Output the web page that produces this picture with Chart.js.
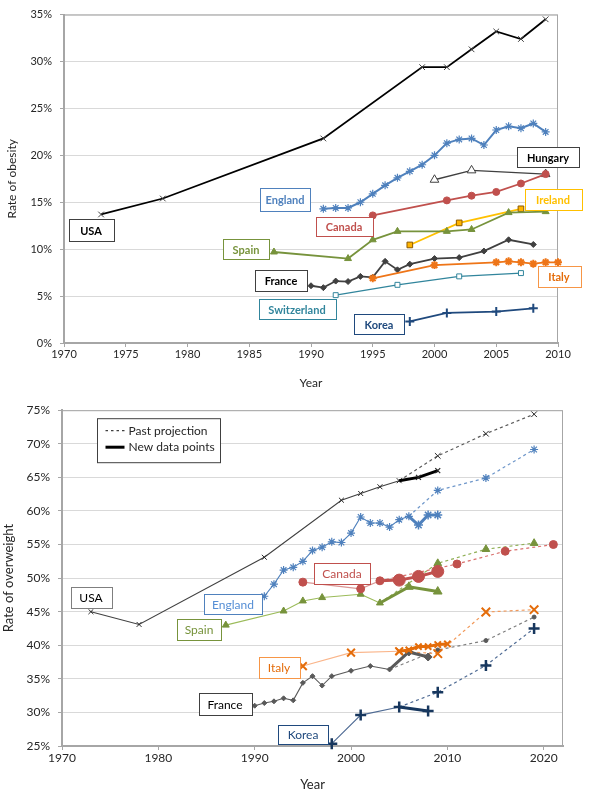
<!DOCTYPE html>
<html>
<head>
<meta charset="utf-8">
<script src="https://cdn.jsdelivr.net/npm/chart.js@4.4.1/dist/chart.umd.min.js"></script>
<style>
  body { margin: 0; background: #fff; }
  canvas { position: absolute; left: 0; }
  #obesity { top: 0; }
  #overweight { top: 395px; }
</style>
</head>
<body>
<canvas id="obesity" width="590" height="395"></canvas>
<canvas id="overweight" width="590" height="405"></canvas>
<script>
// ---- top chart: rate of obesity ----
const usaYears = [1973, 1978, 1991, 1999, 2001, 2003, 2005, 2007, 2009];
const usaObesity = [13.7, 15.4, 21.8, 29.4, 29.4, 31.3, 33.2, 32.4, 34.5];
const englandYears = [1991, 1992, 1993, 1994, 1995, 1996, 1997, 1998, 1999, 2000, 2001, 2002, 2003, 2004, 2005, 2006, 2007, 2008, 2009];
const englandObesity = [14.3, 14.4, 14.4, 15.0, 15.9, 16.8, 17.6, 18.3, 19.0, 20.0, 21.3, 21.7, 21.8, 21.1, 22.7, 23.1, 22.9, 23.4, 22.5];
const hungaryYears = [2000, 2003, 2009];
const hungaryObesity = [17.4, 18.4, 18.0];
const canadaYears = [1995, 2001, 2003, 2005, 2007, 2009];
const canadaObesity = [13.6, 15.2, 15.7, 16.1, 17.0, 18.0];
const irelandYears = [1998, 2002, 2007];
const irelandObesity = [10.45, 12.8, 14.3];
const spainYears = [1987, 1993, 1995, 1997, 2001, 2003, 2006, 2009];
const spainObesity = [9.7, 9.0, 11.0, 11.9, 11.9, 12.1, 13.9, 14.0];
const franceYears = [1990, 1991, 1992, 1993, 1994, 1995, 1996, 1997, 1998, 2000, 2002, 2004, 2006, 2008];
const franceObesity = [6.1, 5.9, 6.6, 6.55, 7.1, 7.0, 8.7, 7.8, 8.4, 9.0, 9.1, 9.8, 11.0, 10.5];
const italyYears = [1995, 2000, 2005, 2006, 2007, 2008, 2009, 2010];
const italyObesity = [6.9, 8.3, 8.6, 8.7, 8.6, 8.45, 8.6, 8.6];
const swissYears = [1992, 1997, 2002, 2007];
const swissObesity = [5.1, 6.2, 7.1, 7.45];
const koreaYears = [1998, 2001, 2005, 2008];
const koreaObesity = [2.3, 3.2, 3.35, 3.7];

// ---- bottom chart: rate of overweight (past data, new data, past projection) ----
const usaPastYears = [1973, 1978, 1991, 1999, 2001, 2003, 2005];
const usaPast = [45.0, 43.1, 53.1, 61.6, 62.6, 63.6, 64.5];
const usaNewYears = [2005, 2007, 2009];
const usaNew = [64.5, 65.0, 66.0];
const usaProjYears = [2005, 2009, 2014, 2019];
const usaProj = [64.5, 68.2, 71.5, 74.4];

const englandPastYears = [1991, 1992, 1993, 1994, 1995, 1996, 1997, 1998, 1999, 2000, 2001, 2002, 2003, 2004, 2005, 2006];
const englandPast = [47.3, 49.1, 51.2, 51.6, 52.5, 54.1, 54.6, 55.4, 55.3, 56.7, 59.1, 58.2, 58.2, 57.6, 58.7, 59.2];
const englandNewYears = [2006, 2007, 2008, 2009];
const englandNew = [59.2, 57.9, 59.4, 59.4];
const englandProjYears = [2006, 2009, 2014, 2019];
const englandProj = [59.2, 63.05, 64.9, 69.15];

const canadaPastYears = [1995, 2001, 2003];
const canadaPast = [49.4, 48.4, 49.6];
const canadaNewYears = [2003, 2005, 2007, 2009];
const canadaNew = [49.6, 49.7, 50.25, 51.0];
const canadaProjYears = [2003, 2011, 2016, 2021];
const canadaProj = [49.6, 52.1, 54.0, 55.0];

const spainPastYears = [1987, 1993, 1995, 1997, 2001, 2003];
const spainPast = [43.0, 45.1, 46.6, 47.1, 47.6, 46.3];
const spainNewYears = [2003, 2006, 2009];
const spainNew = [46.3, 48.7, 48.0];
const spainProjYears = [2003, 2009, 2014, 2019];
const spainProj = [46.3, 52.2, 54.3, 55.2];

const italyPastYears = [1995, 2000, 2005];
const italyPast = [36.9, 38.9, 39.1];
const italyNewYears = [2005, 2006, 2007, 2008, 2009, 2010];
const italyNew = [39.1, 39.3, 39.8, 39.8, 40.1, 40.2];
const italyProjYears = [2005, 2009, 2014, 2019];
const italyProj = [39.1, 38.75, 44.95, 45.3];

const francePastYears = [1990, 1991, 1992, 1993, 1994, 1995, 1996, 1997, 1998, 2000, 2002, 2004];
const francePast = [31.0, 31.4, 31.65, 32.1, 31.8, 34.4, 35.4, 34.0, 35.4, 36.2, 36.9, 36.4];
const franceNewYears = [2004, 2006, 2008];
const franceNew = [36.4, 39.0, 38.25];
const franceProjYears = [2004, 2009, 2014, 2019];
const franceProj = [36.4, 39.3, 40.7, 44.2];

const koreaPastYears = [1998, 2001, 2005];
const koreaPast = [25.35, 29.6, 30.8];
const koreaNewYears = [2005, 2008];
const koreaNew = [30.8, 30.2];
const koreaProjYears = [2005, 2009, 2014, 2019];
const koreaProj = [30.8, 33.0, 37.0, 42.5];

const obesityTicks = [0, 5, 10, 15, 20, 25, 30, 35];
const overweightTicks = [25, 30, 35, 40, 45, 50, 55, 60, 65, 70, 75];
const obesityYearTicks = [1970, 1975, 1980, 1985, 1990, 1995, 2000, 2005, 2010];
const overweightYearTicks = [1970, 1980, 1990, 2000, 2010, 2020];

const FONT = 'Lato, "Open Sans", sans-serif';

function pts(years, values) {
    return years.map((x, i) => ({ x: x, y: values[i] }));
}

// boxed country names, placed in data units (year, percent)
const boxLabels = {
    id: 'boxLabels',
    afterDatasetsDraw(chart, args, opts) {
        const ctx = chart.ctx;
        const xs = chart.scales.x, ys = chart.scales.y;
        ctx.save();
        ctx.font = opts.font;
        ctx.textAlign = 'center';
        ctx.textBaseline = 'middle';
        opts.items.forEach(it => {
            const cx = Math.round(xs.getPixelForValue(it.year));
            const cy = Math.round(ys.getPixelForValue(it.value));
            const l = Math.round(cx - it.w / 2) + 0.5, t = Math.round(cy - it.h / 2) + 0.5;
            ctx.fillStyle = '#fff';
            ctx.fillRect(l, t, it.w, it.h);
            ctx.strokeStyle = it.border;
            ctx.lineWidth = 1;
            ctx.strokeRect(l, t, it.w, it.h);
            ctx.fillStyle = it.color;
            ctx.fillText(it.text, cx, cy + 1);
        });
        ctx.restore();
    }
};

const plotBorder = {
    id: 'plotBorder',
    beforeDatasetsDraw(chart) {
        const { ctx, chartArea: a } = chart;
        ctx.save();
        ctx.strokeStyle = '#A6A6A6';
        ctx.lineWidth = 1;
        ctx.strokeRect(a.left, a.top + 0.5, a.right - a.left - 0.5, a.bottom - a.top);
        ctx.restore();
    }
};

const projLegend = {
    id: 'projLegend',
    afterDraw(chart) {
        const { ctx, chartArea: a } = chart;
        const l = a.left + 35.5, t = a.top + 8.5;
        ctx.save();
        ctx.fillStyle = '#fff';
        ctx.fillRect(l, t, 123, 44);
        ctx.strokeStyle = '#404040';
        ctx.lineWidth = 1;
        ctx.strokeRect(l, t, 123, 44);
        ctx.strokeStyle = '#404040';
        ctx.lineWidth = 1.2;
        ctx.setLineDash([2.5, 3]);
        ctx.beginPath(); ctx.moveTo(l + 8, t + 12); ctx.lineTo(l + 27, t + 12); ctx.stroke();
        ctx.setLineDash([]);
        ctx.strokeStyle = '#000';
        ctx.lineWidth = 3;
        ctx.beginPath(); ctx.moveTo(l + 8, t + 28.5); ctx.lineTo(l + 27, t + 28.5); ctx.stroke();
        ctx.fillStyle = '#262626';
        ctx.font = '12px ' + FONT;
        ctx.textBaseline = 'middle';
        ctx.fillText('Past projection', l + 31, t + 12);
        ctx.fillText('New data points', l + 31, t + 28);
        ctx.restore();
    }
};

function axes(o) {
    return {
        x: {
            type: 'linear', min: o.xmin, max: o.xmax,
            afterFit: s => { s.height = o.xh; },
            afterBuildTicks: s => { s.ticks = o.xticks.map(v => ({ value: v })); },
            ticks: { includeBounds: false, padding: 1, color: '#262626', font: { family: FONT, size: o.tick }, callback: v => String(v) },
            grid: { drawOnChartArea: false, drawTicks: true, tickLength: 4, tickColor: '#A6A6A6' },
            border: { color: '#A6A6A6', width: 2 },
            title: { display: true, text: 'Year', color: '#262626', font: { family: FONT, size: o.title }, padding: { top: 0, bottom: o.xtpb } }
        },
        y: {
            min: o.ymin, max: o.ymax,
            afterFit: s => { s.width = o.yw; },
            afterBuildTicks: s => { s.ticks = o.yticks.map(v => ({ value: v })); },
            ticks: { padding: 8, color: '#262626', font: { family: FONT, size: o.tick }, callback: v => v + '%' },
            grid: { color: '#D9D9D9', tickLength: 4, tickColor: '#A6A6A6' },
            border: { color: '#A6A6A6', width: 2 },
            title: { display: true, text: o.ytitle, color: '#262626', font: { family: FONT, size: o.title }, padding: { top: o.ytpt, bottom: 0 } }
        }
    };
}

function topLine(years, values, color, s) {
    return Object.assign({
        data: pts(years, values),
        borderColor: color, borderWidth: 1.8,
        pointBackgroundColor: color, pointBorderColor: color,
        pointBorderWidth: 1, pointRadius: 4, tension: 0, clip: false
    }, s);
}

new Chart(document.getElementById('obesity'), {
    type: 'line',
    data: {
        datasets: [
            topLine(koreaYears, koreaObesity, '#1F497D', { pointStyle: 'cross', pointRadius: 4.5, pointBorderWidth: 2 }),
            topLine(swissYears, swissObesity, '#31859C', { borderWidth: 1.3, pointStyle: 'rect', pointRadius: 3.5, pointBackgroundColor: '#fff' }),
            topLine(italyYears, italyObesity, '#EE7518', { pointStyle: 'star', pointRadius: 4, pointBorderWidth: 2 }),
            topLine(franceYears, franceObesity, '#404040', { pointStyle: 'rectRot', pointRadius: 3 }),
            topLine(spainYears, spainObesity, '#77933C', { pointStyle: 'triangle', pointRadius: 4 }),
            topLine(irelandYears, irelandObesity, '#FFC000', { pointStyle: 'rect', pointRadius: 4, pointBackgroundColor: '#FFB400', pointBorderColor: '#8C5A00' }),
            topLine(canadaYears, canadaObesity, '#C0504D', { pointStyle: 'circle', pointRadius: 3.5 }),
            topLine(hungaryYears, hungaryObesity, '#404040', { borderWidth: 1.4, pointStyle: 'triangle', pointRadius: 5, pointBackgroundColor: '#fff' }),
            topLine(englandYears, englandObesity, '#4F81BD', { borderWidth: 2, pointStyle: 'star', pointRadius: 4, pointBorderWidth: 1.2 }),
            topLine(usaYears, usaObesity, '#000', { pointStyle: 'crossRot', pointRadius: 4, pointBorderColor: '#404040' })
        ]
    },
    options: {
        responsive: false, animation: false,
        layout: { padding: { top: 11, right: 32, left: 0, bottom: 0 } },
        scales: axes({
            xmin: 1970, xmax: 2010, xticks: obesityYearTicks,
            ymin: 0, ymax: 35, yticks: obesityTicks, xh: 52, yw: 64, tick: 11, title: 12,
            xtpb: 5, ytpt: 5, ytitle: 'Rate of obesity'
        }),
        plugins: {
            legend: { display: false }, tooltip: { enabled: false },
            boxLabels: {
                font: 'bold 11px ' + FONT,
                items: [
                    { text: 'USA', year: 1972.15, value: 12.05, w: 45, h: 22, color: '#000', border: '#404040' },
                    { text: 'England', year: 1987.9, value: 15.35, w: 50, h: 23, color: '#4F81BD', border: '#4F81BD' },
                    { text: 'Canada', year: 1992.7, value: 12.5, w: 57, h: 19, color: '#C0504D', border: '#C0504D' },
                    { text: 'Hungary', year: 2009.2, value: 19.8, w: 62, h: 20, color: '#000', border: '#404040' },
                    { text: 'Ireland', year: 2009.6, value: 15.4, w: 57, h: 21, color: '#FFC000', border: '#FFC000' },
                    { text: 'Spain', year: 1984.7, value: 10.0, w: 46, h: 20, color: '#77933C', border: '#77933C' },
                    { text: 'France', year: 1987.6, value: 6.7, w: 52, h: 21, color: '#000', border: '#404040' },
                    { text: 'Italy', year: 2010.1, value: 7.1, w: 43, h: 21, color: '#E46C0A', border: '#F79646' },
                    { text: 'Switzerland', year: 1988.9, value: 3.65, w: 77, h: 20, color: '#31859C', border: '#31859C' },
                    { text: 'Korea', year: 1995.5, value: 2.05, w: 50, h: 20, color: '#1F497D', border: '#1F497D' }
                ]
            }
        }
    },
    plugins: [plotBorder, boxLabels]
});

// past data, new data and projection styles per country
function trio(years, values, kind, c) {
    const base = { data: pts(years, values), tension: 0, clip: false, pointStyle: c.marker };
    if (kind === 'past') {
        return Object.assign(base, {
            borderColor: c.pastLine, borderWidth: 1.1,
            pointBackgroundColor: c.mark, pointBorderColor: c.mark,
            pointRadius: c.r, pointBorderWidth: c.bw
        });
    }
    if (kind === 'new') {
        return Object.assign(base, {
            borderColor: c.newLine, borderWidth: 3,
            pointBackgroundColor: c.mark, pointBorderColor: c.mark,
            pointRadius: ctx => (ctx.dataIndex === 0 && !c.firstNew ? 0 : c.newR),
            pointBorderWidth: c.newBw
        });
    }
    return Object.assign(base, {
        borderColor: c.projLine, borderWidth: 1.2, borderDash: [3, 3],
        pointStyle: c.projMarker || c.marker,
        pointBackgroundColor: c.mark, pointBorderColor: c.mark,
        pointRadius: ctx => (ctx.dataIndex === 0 ? 0 : c.projR),
        pointBorderWidth: c.projBw || c.bw
    });
}

const usaStyle = { marker: 'crossRot', mark: '#262626', pastLine: '#404040', newLine: '#000', projLine: '#595959', r: 3.5, bw: 1, newR: 3.5, newBw: 1.2, projR: 4 };
const englandStyle = { marker: 'star', mark: '#4F81BD', pastLine: '#4F81BD', newLine: '#4F81BD', projLine: '#6F97CA', r: 4, bw: 1.2, newR: 4.5, newBw: 1.5, projR: 4 };
const canadaStyle = { marker: 'circle', mark: '#C0504D', pastLine: '#D99694', newLine: '#C0504D', projLine: '#D9716E', r: 4, bw: 1, newR: 6, newBw: 1, projR: 4 };
const spainStyle = { marker: 'triangle', mark: '#77933C', pastLine: '#9BBB59', newLine: '#77933C', projLine: '#8FAF55', r: 4, bw: 1, newR: 5, newBw: 1, projR: 4.5 };
const italyStyle = { marker: 'crossRot', mark: '#E46C0A', pastLine: '#FAB58A', newLine: '#E46C0A', projLine: '#F2995A', r: 5.5, bw: 2, newR: 4.5, newBw: 2, projR: 6, firstNew: true };
const franceStyle = { marker: 'rectRot', mark: '#595959', pastLine: '#595959', newLine: '#595959', projLine: '#7F7F7F', r: 2.5, bw: 1, newR: 4, newBw: 1, projR: 2, projMarker: 'circle' };
const koreaStyle = { marker: 'cross', mark: '#17375E', pastLine: '#4F6B94', newLine: '#17375E', projLine: '#4F6B94', r: 5.5, bw: 2.5, newR: 5.5, newBw: 2.5, projR: 5.5 };

new Chart(document.getElementById('overweight'), {
    type: 'line',
    data: {
        datasets: [
            trio(usaNewYears, usaNew, 'new', usaStyle),
            trio(englandNewYears, englandNew, 'new', englandStyle),
            trio(canadaNewYears, canadaNew, 'new', canadaStyle),
            trio(spainNewYears, spainNew, 'new', spainStyle),
            trio(italyNewYears, italyNew, 'new', italyStyle),
            trio(franceNewYears, franceNew, 'new', franceStyle),
            trio(koreaNewYears, koreaNew, 'new', koreaStyle),
            trio(usaPastYears, usaPast, 'past', usaStyle),
            trio(englandPastYears, englandPast, 'past', englandStyle),
            trio(canadaPastYears, canadaPast, 'past', canadaStyle),
            trio(spainPastYears, spainPast, 'past', spainStyle),
            trio(italyPastYears, italyPast, 'past', italyStyle),
            trio(francePastYears, francePast, 'past', franceStyle),
            trio(koreaPastYears, koreaPast, 'past', koreaStyle),
            trio(usaProjYears, usaProj, 'proj', usaStyle),
            trio(englandProjYears, englandProj, 'proj', englandStyle),
            trio(canadaProjYears, canadaProj, 'proj', canadaStyle),
            trio(spainProjYears, spainProj, 'proj', spainStyle),
            trio(italyProjYears, italyProj, 'proj', italyStyle),
            trio(franceProjYears, franceProj, 'proj', franceStyle),
            trio(koreaProjYears, koreaProj, 'proj', koreaStyle)
        ]
    },
    options: {
        responsive: false, animation: false,
        layout: { padding: { top: 15, right: 27, left: 0, bottom: 0 } },
        scales: axes({
            xmin: 1970, xmax: 2022, xticks: overweightYearTicks,
            ymin: 25, ymax: 75, yticks: overweightTicks, xh: 54, yw: 62, tick: 12, title: 13,
            xtpb: 7, ytpt: 1, ytitle: 'Rate of overweight'
        }),
        plugins: {
            legend: { display: false }, tooltip: { enabled: false },
            boxLabels: {
                font: '12px ' + FONT,
                items: [
                    { text: 'USA', year: 1973.05, value: 47.2, w: 41, h: 21, color: '#000', border: '#7F7F7F' },
                    { text: 'England', year: 1987.7, value: 46.2, w: 58, h: 20, color: '#558ED5', border: '#4F81BD' },
                    { text: 'Spain', year: 1984.2, value: 42.4, w: 44, h: 21, color: '#77933C', border: '#77933C' },
                    { text: 'Canada', year: 1999.1, value: 50.7, w: 56, h: 21, color: '#C0504D', border: '#C0504D' },
                    { text: 'Italy', year: 1992.5, value: 36.8, w: 41, h: 21, color: '#E46C0A', border: '#F79646' },
                    { text: 'France', year: 1986.9, value: 31.2, w: 53, h: 22, color: '#000', border: '#404040' },
                    { text: 'Korea', year: 1995.0, value: 26.8, w: 50, h: 19, color: '#1F497D', border: '#1F497D' }
                ]
            }
        }
    },
    plugins: [plotBorder, boxLabels, projLegend]
});
</script>
</body>
</html>
